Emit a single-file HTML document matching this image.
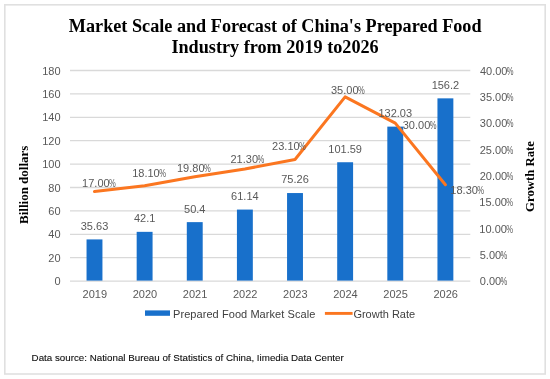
<!DOCTYPE html><html><head><meta charset="utf-8"><style>html,body{margin:0;padding:0;background:#fff;}svg{display:block}</style></head><body>
<svg width="550" height="379" viewBox="0 0 550 379">
<rect width="550" height="379" fill="#fff"/>
<rect x="4.8" y="4.8" width="540.4" height="369.2" fill="none" stroke="#e0e0e0" stroke-width="1.6"/>
<g font-family="Liberation Serif, serif" font-weight="bold" font-size="18.2" fill="#000" text-anchor="middle">
<text x="275.2" y="31.6">Market Scale and Forecast of China's Prepared Food</text>
<text x="275.05" y="52.6">Industry from 2019 to2026</text>
</g>
<g stroke="#d9d9d9" stroke-width="1.3">
<line x1="70" x2="470.3" y1="281.10" y2="281.10"/>
<line x1="70" x2="470.3" y1="257.70" y2="257.70"/>
<line x1="70" x2="470.3" y1="234.30" y2="234.30"/>
<line x1="70" x2="470.3" y1="210.90" y2="210.90"/>
<line x1="70" x2="470.3" y1="187.50" y2="187.50"/>
<line x1="70" x2="470.3" y1="164.10" y2="164.10"/>
<line x1="70" x2="470.3" y1="140.70" y2="140.70"/>
<line x1="70" x2="470.3" y1="117.30" y2="117.30"/>
<line x1="70" x2="470.3" y1="93.90" y2="93.90"/>
<line x1="70" x2="470.3" y1="70.50" y2="70.50"/>
</g>
<g font-family="Liberation Sans, sans-serif" font-size="11" fill="#595959" text-anchor="end">
<text x="60.6" y="285.10">0</text>
<text x="60.6" y="261.70">20</text>
<text x="60.6" y="238.30">40</text>
<text x="60.6" y="214.90">60</text>
<text x="60.6" y="191.50">80</text>
<text x="60.6" y="168.10">100</text>
<text x="60.6" y="144.70">120</text>
<text x="60.6" y="121.30">140</text>
<text x="60.6" y="97.90">160</text>
<text x="60.6" y="74.50">180</text>
</g>
<g font-family="Liberation Sans, sans-serif" font-size="11" fill="#595959">
<text x="479.77" y="285.40">0.00</text><text transform="translate(500.58,285.40) scale(0.690,1)">%</text>
<text x="479.76" y="259.08">5.00</text><text transform="translate(500.57,259.08) scale(0.690,1)">%</text>
<text x="479.36" y="232.75">10.00</text><text transform="translate(506.29,232.75) scale(0.690,1)">%</text>
<text x="479.36" y="206.43">15.00</text><text transform="translate(506.29,206.43) scale(0.690,1)">%</text>
<text x="479.65" y="180.10">20.00</text><text transform="translate(506.58,180.10) scale(0.690,1)">%</text>
<text x="479.65" y="153.78">25.00</text><text transform="translate(506.58,153.78) scale(0.690,1)">%</text>
<text x="479.78" y="127.45">30.00</text><text transform="translate(506.71,127.45) scale(0.690,1)">%</text>
<text x="479.78" y="101.13">35.00</text><text transform="translate(506.71,101.13) scale(0.690,1)">%</text>
<text x="479.95" y="74.80">40.00</text><text transform="translate(506.87,74.80) scale(0.690,1)">%</text>
</g>
<g font-family="Liberation Sans, sans-serif" font-size="11" fill="#595959" text-anchor="middle">
<text x="94.79" y="298.2">2019</text>
<text x="144.92" y="298.2">2020</text>
<text x="195.05" y="298.2">2021</text>
<text x="245.18" y="298.2">2022</text>
<text x="295.31" y="298.2">2023</text>
<text x="345.44" y="298.2">2024</text>
<text x="395.57" y="298.2">2025</text>
<text x="445.70" y="298.2">2026</text>
</g>
<g fill="#1870cb">
<rect x="86.54" y="239.41" width="15.9" height="41.19"/>
<rect x="136.67" y="231.84" width="15.9" height="48.76"/>
<rect x="186.80" y="222.13" width="15.9" height="58.47"/>
<rect x="236.93" y="209.57" width="15.9" height="71.03"/>
<rect x="287.06" y="193.05" width="15.9" height="87.55"/>
<rect x="337.19" y="162.24" width="15.9" height="118.36"/>
<rect x="387.32" y="126.62" width="15.9" height="153.98"/>
<rect x="437.45" y="98.35" width="15.9" height="182.25"/>
</g>
<polyline points="94.49,191.60 144.62,185.80 194.75,176.85 244.88,168.96 295.01,159.48 345.14,96.83 395.27,123.15 445.40,184.75" fill="none" stroke="#fb7620" stroke-width="3" stroke-linejoin="round" stroke-linecap="round"/>
<g font-family="Liberation Sans, sans-serif" font-size="11" fill="#595959" text-anchor="middle">
<text x="94.49" y="229.81">35.63</text>
<text x="144.62" y="222.24">42.1</text>
<text x="194.75" y="212.53">50.4</text>
<text x="244.88" y="199.97">61.14</text>
<text x="295.01" y="183.45">75.26</text>
<text x="345.14" y="152.64">101.59</text>
<text x="395.27" y="117.02">132.03</text>
<text x="445.40" y="88.75">156.2</text>
</g>
<g font-family="Liberation Sans, sans-serif" font-size="11" fill="#595959">
<text x="82.11" y="186.80">17.00</text><text transform="translate(109.04,186.80) scale(0.690,1)">%</text>
<text x="132.21" y="176.80">18.10</text><text transform="translate(159.14,176.80) scale(0.690,1)">%</text>
<text x="177.01" y="172.10">19.80</text><text transform="translate(203.94,172.10) scale(0.690,1)">%</text>
<text x="230.50" y="162.90">21.30</text><text transform="translate(257.43,162.90) scale(0.690,1)">%</text>
<text x="272.10" y="149.70">23.10</text><text transform="translate(299.03,149.70) scale(0.690,1)">%</text>
<text x="330.98" y="94.00">35.00</text><text transform="translate(357.91,94.00) scale(0.690,1)">%</text>
<text x="402.73" y="129.00">30.00</text><text transform="translate(429.66,129.00) scale(0.690,1)">%</text>
<text x="450.36" y="194.20">18.30</text><text transform="translate(477.29,194.20) scale(0.690,1)">%</text>
</g>
<g font-family="Liberation Serif, serif" font-weight="bold" font-size="13" fill="#000" text-anchor="middle">
<text transform="translate(28,184.8) rotate(-90)">Billion dollars</text>
<text transform="translate(533.6,176.5) rotate(-90)" font-size="12.75">Growth Rate</text>
</g>
<rect x="145" y="310.4" width="25" height="5.4" fill="#1870cb"/>
<line x1="324.9" x2="352.6" y1="313.4" y2="313.4" stroke="#fb7620" stroke-width="2.9"/>
<g font-family="Liberation Sans, sans-serif" font-size="11" fill="#404040">
<text x="173" y="317.8" textLength="142.3">Prepared Food Market Scale</text>
<text x="353.4" y="317.8">Growth Rate</text>
</g>
<text x="31.6" y="360.8" font-family="Liberation Sans, sans-serif" font-size="9.77" fill="#0d0d0d" stroke="#0d0d0d" stroke-width="0.1">Data source: National Bureau of Statistics of China, Iimedia Data Center</text>
</svg></body></html>
